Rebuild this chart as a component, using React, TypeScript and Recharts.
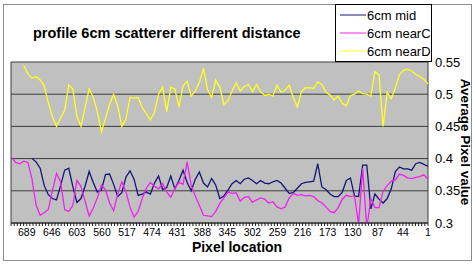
import { LineChart, Line, XAxis, YAxis, CartesianGrid } from "recharts"

// pixel locations (x), sampled along the profile
const locations = [
  715, 708, 701, 694, 687, 680, 673, 666, 659, 652, 645, 638, 631, 624, 617, 610, 603, 596, 589, 582,
  575, 568, 561, 554, 547, 540, 533, 526, 519, 512, 505, 498, 491, 484, 477, 470, 463, 456, 449, 442,
  435, 428, 421, 414, 407, 400, 393, 386, 379, 372, 365, 358, 351, 344, 337, 330, 323, 316, 309, 302,
  295, 288, 281, 274, 267, 260, 253, 246, 239, 232, 225, 218, 211, 204, 197, 190, 183, 176, 169, 162,
  155, 148, 141, 134, 127, 120, 113, 106, 99, 92, 85, 78, 71, 64, 57, 50, 43, 36, 29, 22, 15, 8, 1,
]

const mid = [
  null, null, null, null, null, 0.4, 0.395, 0.385, 0.358, 0.344,
  0.338, 0.336, 0.358, 0.382, 0.385, 0.357, 0.332, 0.338, 0.357, 0.38,
  0.363, 0.348, 0.351, 0.375, 0.376, 0.36, 0.341, 0.347, 0.371, 0.381,
  0.368, 0.343, 0.345, 0.348, 0.345, 0.362, 0.373, 0.352, 0.355, 0.373,
  0.353, 0.366, 0.382, 0.363, 0.35, 0.368, 0.379, 0.362, 0.356, 0.369,
  0.359, 0.338, 0.342, 0.351, 0.361, 0.366, 0.361, 0.368, 0.37, 0.366,
  0.361, 0.366, 0.362, 0.361, 0.364, 0.366, 0.362, 0.354, 0.346, 0.347,
  0.354, 0.361, 0.363, 0.364, 0.365, 0.392, 0.356, 0.352, 0.345, 0.341,
  0.341, 0.348, 0.366, 0.37, 0.342, 0.341, 0.39, 0.39, 0.322, 0.345,
  0.337, 0.331, 0.338, 0.353, 0.38, 0.387, 0.384, 0.384, 0.382, 0.392,
  0.394, 0.391, 0.388,
]

const nearC = [
  0.402, 0.394, 0.392, 0.396, 0.394, 0.368, 0.328, 0.312, 0.316, 0.321,
  0.35, 0.377, 0.364, 0.321, 0.318, 0.327, 0.366, 0.357, 0.334, 0.311,
  0.323, 0.339, 0.359, 0.352, 0.331, 0.319, 0.345, 0.364, 0.349, 0.325,
  0.309, 0.318, 0.338, 0.354, 0.363, 0.357, 0.353, 0.361, 0.348, 0.34,
  0.354, 0.363, 0.36, 0.395, 0.358, 0.342, 0.327, 0.312, 0.311, 0.31,
  0.318, 0.33, 0.339, 0.348, 0.346, 0.347, 0.334, 0.34, 0.341, 0.332,
  0.336, 0.339, 0.337, 0.331, 0.333, 0.325, 0.322, 0.325, 0.339, 0.346,
  0.343, 0.344, 0.342, 0.343, 0.341, 0.335, 0.331, 0.325, 0.318, 0.316,
  0.324, 0.337, 0.343, 0.341, 0.342, 0.298, 0.385, 0.292, 0.338, 0.324,
  0.324, 0.349, 0.358, 0.365, 0.367, 0.376, 0.374, 0.37, 0.369, 0.371,
  0.372, 0.375, 0.368,
]

const nearD = [
  null, null, null, 0.545, 0.531, 0.525, 0.527, 0.522, 0.513, 0.487,
  0.465, 0.45, 0.463, 0.475, 0.514, 0.508, 0.466, 0.45, 0.479, 0.508,
  0.495, 0.473, 0.442, 0.462, 0.484, 0.5, 0.482, 0.45, 0.461, 0.495,
  0.494, 0.495, 0.479, 0.47, 0.46, 0.472, 0.5, 0.511, 0.473, 0.511,
  0.508, 0.48, 0.513, 0.52, 0.497, 0.505, 0.518, 0.54, 0.507, 0.495,
  0.522, 0.511, 0.484, 0.49, 0.505, 0.518, 0.505, 0.512, 0.515, 0.504,
  0.515, 0.504, 0.498, 0.5, 0.497, 0.514, 0.503, 0.506, 0.514, 0.495,
  0.48, 0.504, 0.51, 0.51, 0.509, 0.519, 0.515, 0.503, 0.499, 0.491,
  0.497, 0.486, 0.482, 0.498, 0.5, 0.505, 0.501, 0.5, 0.497, 0.535,
  0.53, 0.45, 0.503, 0.493, 0.51, 0.53, 0.537, 0.539, 0.536, 0.531,
  0.527, 0.523, 0.516,
]

const xLabels = [689, 646, 603, 560, 517, 474, 431, 388, 345, 302, 259, 216, 173, 130, 87, 44, 1]
const yTicks = [0.3, 0.35, 0.4, 0.45, 0.5, 0.55]

const series = [
  { key: "mid", name: "6cm mid", color: "#14147a" },
  { key: "nearC", name: "6cm nearC", color: "#f020f0" },
  { key: "nearD", name: "6cm nearD", color: "#ffff20" },
]

const rows = locations.map((loc, i) => ({ loc, mid: mid[i], nearC: nearC[i], nearD: nearD[i] }))

// minor tick marks along the bottom axis, 8 per labelled step
const axisTicks = Array.from({ length: 134 }, (_, k) => 1 + (k * 43) / 8)

const font = '"Liberation Sans", Arial, sans-serif'

const XTick = ({ x, y, payload }: any) => {
  if (!xLabels.includes(payload.value)) return <g />
  return (
    <text x={x} y={y} dy="0.71em" textAnchor="middle" fontSize={10.5} fontFamily={font} fill="#000">
      {payload.value}
    </text>
  )
}

export default function App() {
  return (
    <div style={{ position: "absolute", left: 0, top: 0, width: 474, height: 264, background: "#fff", fontFamily: font }}>
      <LineChart width={474} height={264} data={rows} margin={{ top: 62, right: 0, bottom: 0, left: 11 }}>
        <CartesianGrid
          stroke="#3c3c3c"
          fill="#c0c0c0"
          verticalCoordinatesGenerator={({ offset }: any) => [offset.left, offset.left + offset.width]}
        />
        <XAxis
          dataKey="loc"
          type="number"
          domain={[1, 716]}
          reversed
          ticks={axisTicks}
          interval={0}
          height={41}
          tick={XTick}
          tickSize={3}
          tickMargin={3}
          tickLine={{ stroke: "#222" }}
          axisLine={{ stroke: "#222" }}
        />
        <YAxis
          orientation="right"
          domain={[0.3, 0.55]}
          ticks={yTicks}
          allowDataOverflow
          width={46}
          axisLine={false}
          tickLine={false}
          tickSize={4}
          tickMargin={3}
          tick={{ fontSize: 13, fill: "#000", fontFamily: font }}
        />
        {series.map((s) => (
          <Line
            key={s.key}
            type="linear"
            dataKey={s.key}
            name={s.name}
            stroke={s.color}
            strokeWidth={1.3}
            dot={false}
            isAnimationActive={false}
          />
        ))}
      </LineChart>

      <div style={{ position: "absolute", left: 3, top: 4, width: 469, height: 257, border: "1px solid #8c8c8c", boxSizing: "border-box", pointerEvents: "none" }} />

      <div style={{ position: "absolute", left: 33, top: 24, fontSize: 14.5, fontWeight: "bold", lineHeight: "18px", whiteSpace: "nowrap" }}>
        profile 6cm scatterer different distance
      </div>

      <div style={{ position: "absolute", left: 335, top: 4, width: 97, height: 58, border: "1px solid #000", boxSizing: "border-box", background: "#fff" }}>
        <svg width={95} height={56} style={{ position: "absolute", left: 0, top: 0 }}>
          {series.map((s, i) => (
            <g key={s.key}>
              <line x1={4} x2={30} y1={10 + i * 18} y2={10 + i * 18} stroke={s.color} strokeWidth={1} />
              <text x={31} y={10 + i * 18} dy="0.35em" fontSize={13} fontFamily={font} fill="#000">
                {s.name}
              </text>
            </g>
          ))}
        </svg>
      </div>

      <div style={{ position: "absolute", left: 385, top: 134, width: 160, height: 16, lineHeight: "16px", textAlign: "center", fontSize: 13.5, fontWeight: "bold", transform: "rotate(90deg)", whiteSpace: "nowrap" }}>
        Average Pixel value
      </div>

      <div style={{ position: "absolute", left: 177, top: 238, width: 120, lineHeight: "18px", textAlign: "center", fontSize: 14, fontWeight: "bold", whiteSpace: "nowrap" }}>
        Pixel location
      </div>
    </div>
  )
}
